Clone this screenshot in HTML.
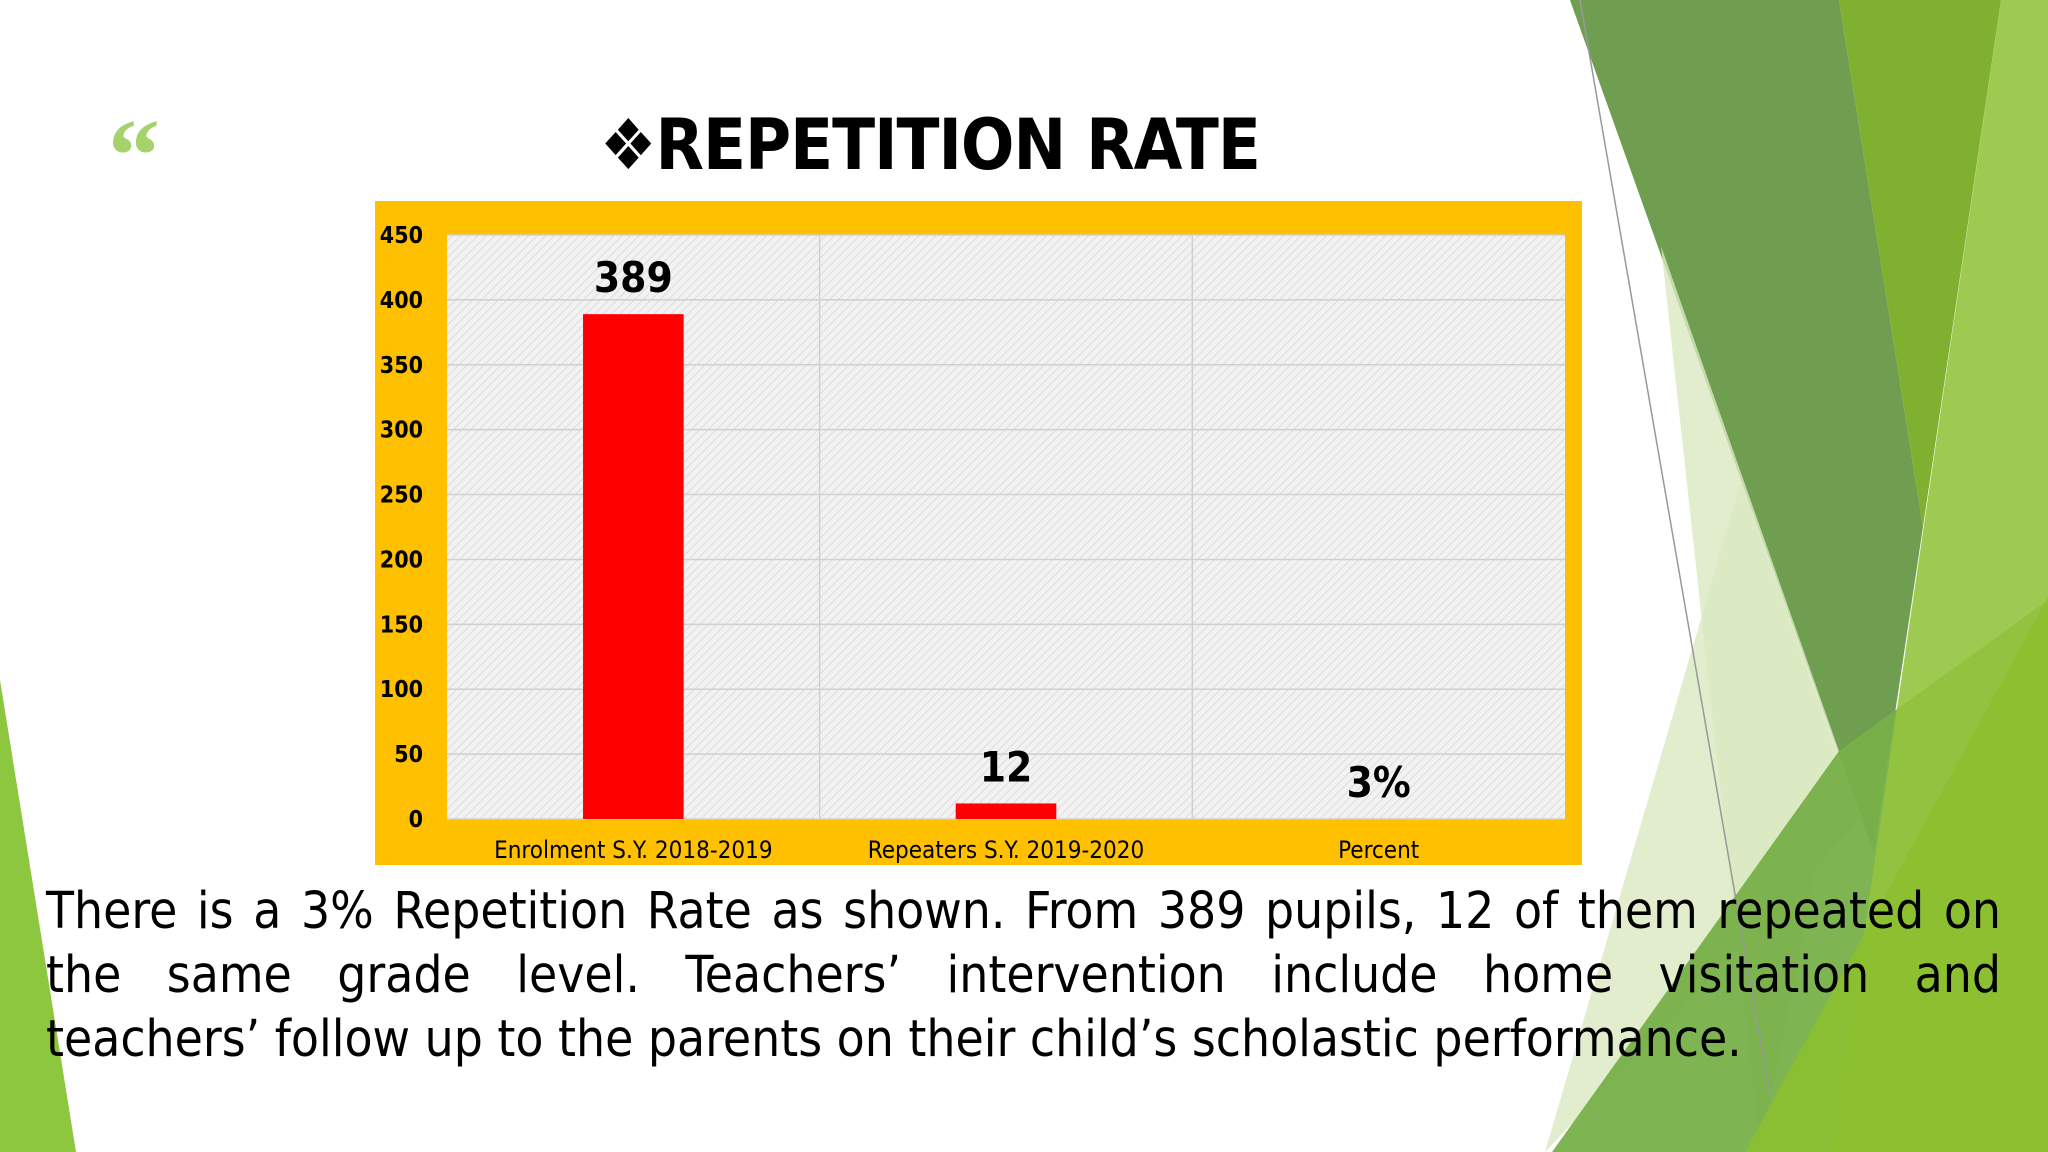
<!DOCTYPE html>
<html><head><meta charset="utf-8">
<style>
html,body{margin:0;padding:0;}
body{width:2048px;height:1152px;position:relative;overflow:hidden;background:#fff;font-family:"DejaVu Sans Condensed","DejaVu Sans","Liberation Sans",sans-serif;}
#deco{position:absolute;left:0;top:0;}
#title{position:absolute;left:600px;top:104px;font:bold 70px "DejaVu Sans Condensed","Liberation Sans",sans-serif;color:#000;white-space:nowrap;letter-spacing:-1px;}
#quote{position:absolute;left:108px;top:96px;font:bold 104px "Liberation Serif",serif;color:#a5d26a;}
#para{position:absolute;left:46px;top:880px;width:1955px;font-size:51px;line-height:64px;color:#000;}
#para div{text-align:justify;text-align-last:justify;white-space:nowrap;}
#para div.last{text-align-last:left;}
#chart{position:absolute;left:0;top:0;}
</style></head><body>
<svg id="deco" width="2048" height="1152">
  <polygon points="0,680 76,1152 0,1152" fill="#8dc63f"/>
  <polygon points="1570,0 1839,0 1923,527 1874,853" fill="#6f9e50"/>
  <polygon points="1839,0 2001,0 1923,527" fill="#80b030"/>
  <polygon points="1661,246 1839,751 1760,1152" fill="#d9e8c0" opacity="0.8"/>
  <polygon points="1741,482 1860,820 1545,1152" fill="#d9e8c0" opacity="0.8"/>
  <polygon points="1552,1152 1839,751 2048,600 2048,1152" fill="#77b048" opacity="0.95"/>
  <polygon points="2001,0 2048,0 2048,1152 1832,1152" fill="#95c43e" opacity="0.9"/>
  <polygon points="1745,1152 2048,597 2048,1152" fill="#8dc030" opacity="0.9"/>
  <line x1="1580" y1="0" x2="1770" y2="1096" stroke="#999" stroke-width="1.5"/>
</svg>
<div id="quote">“</div>
<div id="title">❖REPETITION RATE</div>
<svg id="chart" width="2048" height="1152">
  <defs>
    <pattern id="hatch" width="6" height="6" patternUnits="userSpaceOnUse" patternTransform="rotate(45)">
      <rect width="6" height="6" fill="#f2f2f2"/>
      <line x1="0" y1="0" x2="0" y2="6" stroke="#dcdcdc" stroke-width="2"/>
    </pattern>
  </defs>
  <rect x="375" y="201" width="1207" height="664" fill="#ffc000"/>
  <rect x="447" y="235" width="1118" height="584" fill="url(#hatch)"/>
  <g id="grid"></g>
  <g id="bars"></g>
  <g id="labels"></g>
</svg>
<div id="para">
<div>There is a 3% Repetition Rate as shown. From 389 pupils, 12 of them repeated on</div>
<div>the same grade level. Teachers’ intervention include home visitation and</div>
<div class="last">teachers’ follow up to the parents on their child’s scholastic performance.</div>
</div>
<script>
const categories = ["Enrolment S.Y. 2018-2019","Repeaters S.Y. 2019-2020","Percent"];
const values = [389, 12, 0.03];
const valueLabels = ["389","12","3%"];
const yTicks = [0,50,100,150,200,250,300,350,400,450];

const NS="http://www.w3.org/2000/svg";
const px0=447, px1=1565, py0=819, py1=235, ymax=450;
const y = v => py0 - (v/ymax)*(py0-py1);
const bw = (px1-px0)/categories.length;
const xc = i => px0 + bw*(i+0.5);
function mk(tag, attrs, parent){const e=document.createElementNS(NS,tag);for(const k in attrs)e.setAttribute(k,attrs[k]);parent.appendChild(e);return e;}
const grid=document.getElementById('grid'), bars=document.getElementById('bars'), labels=document.getElementById('labels');
yTicks.forEach(t=>{
  const l=mk('line',{x1:px0,x2:px1,y1:y(t),y2:y(t),stroke:'#d0d0d0','stroke-width':1.5},grid);
  
  
  const tx=mk('text',{x:423,y:y(t)+8,'text-anchor':'end','font-size':23,'font-weight':'bold','font-family':'"DejaVu Sans Condensed","Liberation Sans",sans-serif',fill:'#000'},labels);
  tx.textContent=t;
  
  
});
for(let i=1;i<categories.length;i++){
  const l=mk('line',{x1:px0+bw*i,x2:px0+bw*i,y1:py1,y2:py0,stroke:'#d0d0d0','stroke-width':1.5},grid);
  
  
}
categories.forEach((c,i)=>{
  const w=bw*0.27;
  const r=mk('rect',{x:xc(i)-w/2,y:y(values[i]),width:w,height:py0-y(values[i]),fill:'#ff0000'},bars);
  
  
  const v=mk('text',{x:xc(i),y:y(values[i])-22,'text-anchor':'middle','font-size':42,'font-weight':'bold','font-family':'"DejaVu Sans Condensed","Liberation Sans",sans-serif',fill:'#000'},labels);
  v.textContent=valueLabels[i];
  
  
  const t=mk('text',{x:xc(i),y:858,'text-anchor':'middle','font-size':24,'font-family':'"DejaVu Sans Condensed","Liberation Sans",sans-serif',fill:'#000'},labels);
  t.textContent=c;
  
  
});
</script>
</body></html>
